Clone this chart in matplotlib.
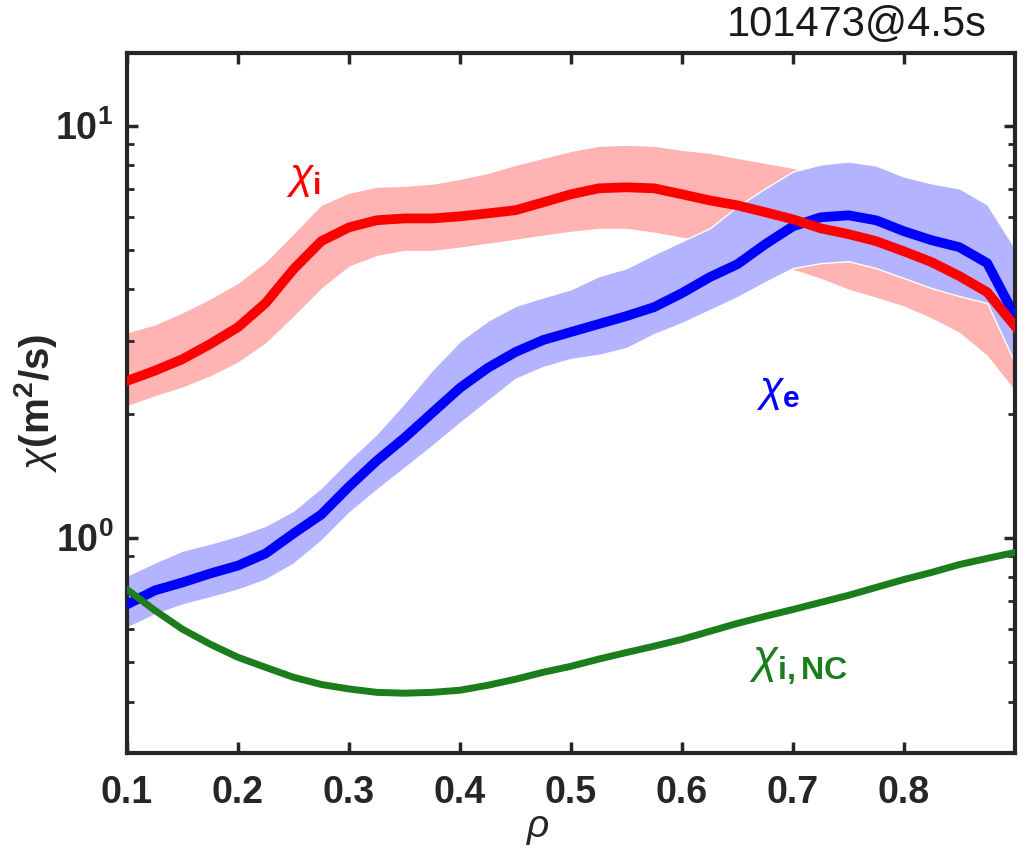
import numpy as np
import matplotlib
matplotlib.use("Agg")
import matplotlib.pyplot as plt
from matplotlib.ticker import FixedLocator, FixedFormatter, LogLocator, NullFormatter

plt.rcParams["font.family"] = ["Liberation Sans", "DejaVu Sans"]
plt.rcParams["mathtext.fontset"] = "custom"
plt.rcParams["mathtext.rm"] = "Liberation Sans"
plt.rcParams["mathtext.it"] = "Liberation Sans:italic"
plt.rcParams["mathtext.bf"] = "Liberation Sans:bold"

# normalised radius
rho = np.linspace(0.1, 0.9, 33)

# ion diffusivity (m^2/s) and its uncertainty band
chi_i = [2.40, 2.54, 2.71, 2.95, 3.24, 3.71, 4.48, 5.24, 5.66, 5.89, 5.95,
         5.95, 6.02, 6.12, 6.23, 6.51, 6.81, 7.04, 7.08, 7.04, 6.81, 6.58,
         6.40, 6.16, 5.92, 5.63, 5.45, 5.24, 4.95, 4.66, 4.31, 3.94, 3.26]
chi_i_hi = [3.14, 3.28, 3.51, 3.79, 4.14, 4.66, 5.45, 6.40, 6.85, 7.08, 7.12,
            7.20, 7.40, 7.65, 8.00, 8.32, 8.65, 8.90, 8.95, 8.90, 8.70, 8.56,
            8.32, 8.09, 7.87, 7.52, 7.24, 6.96, 6.62, 6.23, 5.76, 5.24, 4.38]
chi_i_lo = [2.09, 2.21, 2.32, 2.47, 2.67, 2.97, 3.45, 4.03, 4.56, 4.84, 4.98,
            4.98, 5.07, 5.18, 5.30, 5.42, 5.54, 5.63, 5.63, 5.51, 5.36, 5.21,
            5.04, 4.82, 4.48, 4.26, 4.01, 3.83, 3.65, 3.41, 3.15, 2.77, 2.28]

# electron diffusivity and band
chi_e = [0.688, 0.744, 0.778, 0.818, 0.855, 0.915, 1.023, 1.137, 1.329, 1.536,
         1.746, 2.008, 2.308, 2.58, 2.82, 3.016, 3.154, 3.298, 3.448, 3.625,
         3.92, 4.285, 4.608, 5.151, 5.693, 5.988, 6.055, 5.888, 5.539, 5.267,
         5.066, 4.634, 3.448]
chi_e_hi = [0.809, 0.870, 0.930, 0.967, 1.011, 1.069, 1.163, 1.322, 1.545,
            1.786, 2.123, 2.552, 2.999, 3.36, 3.65, 3.83, 4.008, 4.31, 4.507,
            4.872, 5.24, 5.63, 6.367, 7.04, 7.737, 8.045, 8.18, 8.0, 7.52,
            7.238, 7.04, 6.438, 5.038]
chi_e_lo = [0.605, 0.651, 0.688, 0.716, 0.748, 0.791, 0.865, 0.983, 1.149,
            1.307, 1.477, 1.670, 1.899, 2.147, 2.427, 2.594, 2.713, 2.774,
            2.884, 3.118, 3.317, 3.565, 3.833, 4.168, 4.507, 4.634, 4.686,
            4.507, 4.261, 4.030, 3.855, 3.707, 2.653]

# neoclassical ion diffusivity
chi_nc = [0.748, 0.666, 0.599, 0.551, 0.512, 0.484, 0.458, 0.440, 0.429, 0.421,
          0.419, 0.421, 0.426, 0.438, 0.453, 0.471, 0.487, 0.507, 0.526, 0.545,
          0.566, 0.592, 0.619, 0.644, 0.669, 0.696, 0.724, 0.757, 0.791, 0.823,
          0.860, 0.890, 0.920]

xticks = [0.1, 0.2, 0.3, 0.4, 0.5, 0.6, 0.7, 0.8]
ink = "#262626"

fig = plt.figure(figsize=(10.25, 8.49), dpi=100)
ax = fig.add_axes([0.1239, 0.1131, 0.8663, 0.8245])

ax.fill_between(rho, chi_i_lo, chi_i_hi, color="#ffb3b3", lw=0, zorder=1)
ax.fill_between(rho, chi_e_lo, chi_e_hi, facecolor="#b3b3ff",
                edgecolor="white", lw=1.0, zorder=2)
ax.plot(rho, chi_e, color="#0000ff", lw=7, zorder=3, solid_joinstyle="round")
ax.plot(rho, chi_i, color="#ff0000", lw=7, zorder=4, solid_joinstyle="round")
ax.plot(rho, chi_nc, color="#1b7d1b", lw=5, zorder=5, solid_joinstyle="round")

ax.set_yscale("log")
ax.set_xlim(0.1, 0.9)
ax.set_ylim(0.3, 15)

ax.xaxis.set_major_locator(FixedLocator(xticks))
ax.set_xticklabels(["%.1f" % t for t in xticks], fontweight="bold")
ax.yaxis.set_major_locator(FixedLocator([1.0, 10.0]))
ax.yaxis.set_major_formatter(FixedFormatter([r"$\mathbf{10^{0}}$",
                                             r"$\mathbf{10^{1}}$"]))
ax.yaxis.set_minor_locator(LogLocator(base=10, subs=np.arange(2, 10)))
ax.yaxis.set_minor_formatter(NullFormatter())

ax.tick_params(axis="both", which="major", direction="in", length=8, width=2.5,
               top=True, right=True, labelsize=27, color=ink, labelcolor=ink)
ax.tick_params(axis="x", which="major", pad=16)
ax.tick_params(axis="y", which="major", pad=10)
ax.tick_params(axis="y", which="minor", direction="in", length=5, width=2.0,
               right=True, color=ink)
for s in ax.spines.values():
    s.set_linewidth(3)
    s.set_color(ink)

ax.set_xlabel(r"$\rho$", fontsize=28, color=ink)
ax.xaxis.set_label_coords(0.463, -0.083)
ax.set_ylabel(r"$\chi$(m$^{\mathbf{2}}$/s)", fontsize=29, fontweight="bold",
              color=ink)
ax.yaxis.set_label_coords(-0.077, 0.5)

ax.text(0.243, 7.4, r"$\chi_{\mathbf{i}}$", color="#ff0000", fontsize=31,
        ha="left", va="center")
ax.text(0.667, 2.25, r"$\chi_{\mathbf{e}}$", color="#0000ff", fontsize=31,
        ha="left", va="center")
ax.text(0.660, 0.49, r"$\chi_{\mathbf{i,NC}}$", color="#1b7d1b", fontsize=33,
        ha="left", va="center")

fig.text(0.836, 0.9706, "101473@4.5s", ha="center", va="center", fontsize=30,
         color="#1a1a1a")

fig.savefig("out.png", dpi=100)
